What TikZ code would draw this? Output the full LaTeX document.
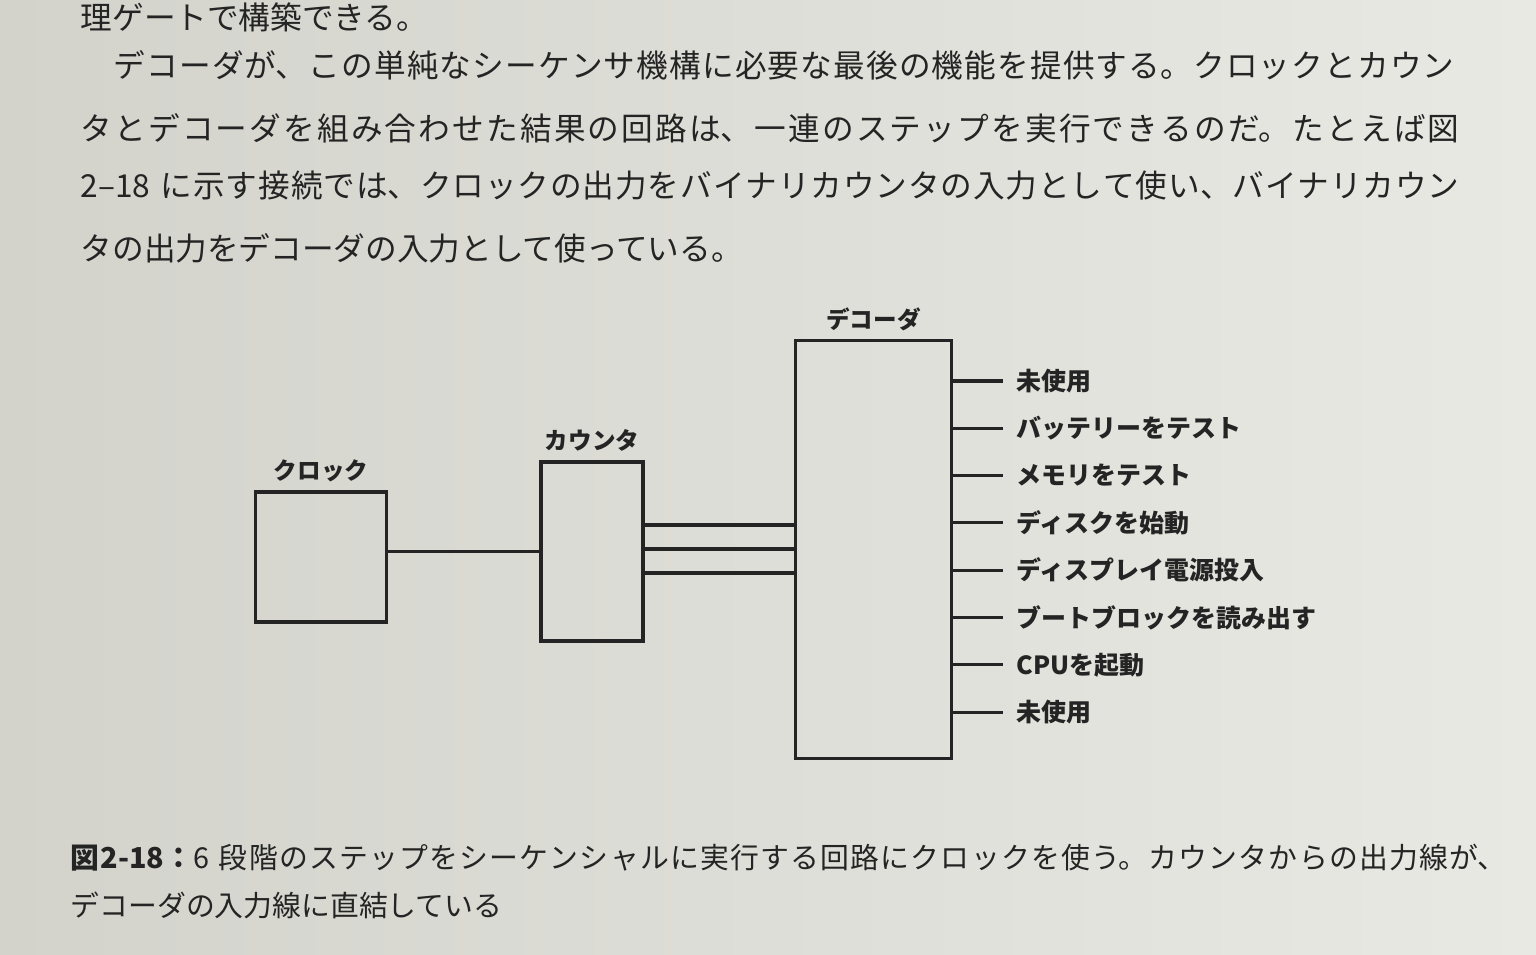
\documentclass[tikz,border=0pt]{standalone}
\usepackage{fontspec}
\setmainfont{Noto Sans CJK JP}
\usetikzlibrary{positioning,calc}
\XeTeXlinebreaklocale "ja"
\XeTeXlinebreakskip=0pt plus 1fil
\definecolor{paperL}{RGB}{211,211,204}
\definecolor{paperR}{RGB}{233,233,228}
\definecolor{ink}{RGB}{36,36,36}

\begin{document}
\begin{tikzpicture}[
    x=0.01cm, y=-0.01cm,
    block/.style={rectangle, draw=ink, line width=0.9pt, inner sep=0pt},
    blocklabel/.style={font=\fontsize{6.7pt}{8pt}\selectfont\bfseries, text=ink, inner sep=0pt},
    outlabel/.style={anchor=west, font=\fontsize{7.1pt}{8pt}\selectfont\bfseries, text=ink, inner xsep=0.13cm, inner ysep=0pt},
    wire/.style={draw=ink, line width=0.9pt},
    bodyline/.style={anchor=west, inner sep=0pt, text=ink, font=\fontsize{9pt}{11pt}\selectfont},
    fullline/.style={bodyline, text width=#1, execute at begin node={\noindent\parfillskip=0pt\relax}},
    capline/.style={anchor=west, inner sep=0pt, text=ink, font=\fontsize{8.2pt}{10pt}\selectfont},
    fullcapline/.style={capline, text width=#1, execute at begin node={\noindent\parfillskip=0pt\relax}}
]

% Page
\shade[left color=paperL, right color=paperR] (0,0) rectangle (1536,955);
\useasboundingbox (0,0) rectangle (1536,955);

% Body text
\node[bodyline] (line1) at (80,17) {理ゲートで構築できる。};
\node[fullline=13.40cm] (line2) at (113,65) {デコーダが、この単純なシーケンサ機構に必要な最後の機能を提供する。クロックとカウン};
\node[fullline=13.78cm] (line3) at (80,128) {タとデコーダを組み合わせた結果の回路は、一連のステップを実行できるのだ。たとえば図};
\node[fullline=13.78cm] (line4) at (80,186) {2–18 に示す接続では、クロックの出力をバイナリカウンタの入力として使い、バイナリカウン};
\node[bodyline] (line5) at (80,248) {タの出力をデコーダの入力として使っている。};

% Blocks
\node[block, minimum width=1.31cm, minimum height=1.30cm] (clock) at (321,557) {};
\node[block, minimum width=1.02cm, minimum height=1.79cm] (counter) at (592,551.5) {};
\node[block, minimum width=1.56cm, minimum height=4.17cm] (decoder) at (873.5,549.5) {};

\node[blocklabel, above=0.08cm of clock] (clocklbl) {クロック};
\node[blocklabel, above=0.08cm of counter] (counterlbl) {カウンタ};
\node[blocklabel, above=0.08cm of decoder] (decoderlbl) {デコーダ};

% Clock -> counter
\draw[wire] (counter.west) -- (counter.west -| clock.east);

% Counter -> decoder
\foreach \dy in {0.265cm,0.025cm,-0.215cm}
  \draw[wire] ([yshift=\dy]counter.east) -- ([yshift=\dy]counter.east -| decoder.west);

% Decoder outputs
\foreach \i/\txt in {1/未使用, 2/バッテリーをテスト, 3/メモリをテスト, 4/ディスクを始動,
                     5/ディスプレイ電源投入, 6/ブートブロックを読み出す, 7/CPUを起動, 8/未使用} {
  \node[outlabel] (out\i) at (1003,{381+47.3*(\i-1)}) {\txt};
  \draw[wire] (out\i.west -| decoder.east) -- (out\i.west);
}

% Caption
\node[fullcapline=14.35cm] (cap1) at (70,858) {\textbf{図2-18：}6 段階のステップをシーケンシャルに実行する回路にクロックを使う。カウンタからの出力線が、};
\node[capline] (cap2) at (70,905) {デコーダの入力線に直結している};

\end{tikzpicture}
\end{document}
